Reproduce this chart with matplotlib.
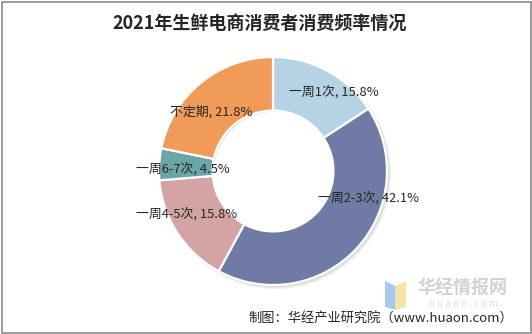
import matplotlib
matplotlib.use("Agg")
import matplotlib.pyplot as plt
from matplotlib.patches import Rectangle, Wedge, Polygon

plt.rcParams['font.family'] = ['Noto Sans CJK SC', 'DejaVu Sans']

# Data
categories = ["一周1次", "一周2-3次", "一周4-5次", "一周6-7次", "不定期"]
shares = [15.8, 42.1, 15.8, 4.5, 21.8]
colors = ["#b6d3e6", "#6f7ba4", "#d4a4a4", "#6aa5a7", "#f09c58"]
title = "2021年生鲜电商消费者消费频率情况"
source = "制图：华经产业研究院（www.huaon.com）"

# Label anchor points (data units, ring radius = 1)
label_xy = [(0.53, 0.69), (0.84, -0.24), (-0.76, -0.38), (-0.79, 0.02), (-0.54, 0.52)]

W, H = 532, 334
fig = plt.figure(figsize=(W / 100, H / 100), dpi=100)
fig.patch.set_facecolor("white")

# Outer frame
fig.add_artist(Rectangle((1.5 / W, 1.5 / H), (W - 3) / W, (H - 3) / H,
                         transform=fig.transFigure, fill=False,
                         edgecolor="#8a8a8a", linewidth=1.2))

# Axes placed so the ring center is at (273, 171) px, radius 114 px
R_px = 114.0
L = 1.25
cx, cy = 273.0, H - 171.0
ax = fig.add_axes([(cx - L * R_px) / W, (cy - L * R_px) / H,
                   2 * L * R_px / W, 2 * L * R_px / H])
ax.set_xlim(-L, L)
ax.set_ylim(-L, L)
ax.axis("off")

# Soft shadow behind the ring
for i in range(4):
    off = 0.006 * (i + 1)
    ax.add_patch(Wedge((off, -off), 1.0 + 0.004 * i, 0, 360, width=0.47,
                       facecolor="#000000", alpha=0.05, linewidth=0, zorder=1))

wedges, _ = ax.pie(shares, colors=colors, startangle=90, counterclock=False,
                   radius=1.0,
                   wedgeprops=dict(width=0.47, edgecolor="white", linewidth=1.6),
                   normalize=True)
for w in wedges:
    w.set_zorder(2)

for name, val, (x, y) in zip(categories, shares, label_xy):
    ax.text(x, y, f"{name}, {val}%", ha="center", va="center",
            fontsize=9.3, color="#262626", zorder=5)

# Title
fig.text(260 / W, 1 - 23 / H, title, ha="center", va="center",
         fontsize=13, fontweight="bold", color="#262626")

# Watermark logo and text
wm = fig.add_axes([385 / W, 1 - 310 / H, 21 / W, 32 / H])
wm.axis("off")
wm.set_xlim(0, 1)
wm.set_ylim(0, 1)
wm.add_patch(Polygon([(0, 0.1), (0.5, 0.0), (0.5, 0.75), (0, 0.9)],
                     facecolor="#a9c8ee", linewidth=0))
wm.add_patch(Polygon([(0.5, 0.0), (1.0, 0.1), (1.0, 0.9), (0.5, 0.75)],
                     facecolor="#f7e3a6", linewidth=0))
fig.text(463 / W, 1 - 288 / H, "华经情报网", ha="center", va="center",
         fontsize=13, fontweight="bold", color="#d2d2d2")
fig.text(463 / W, 1 - 304 / H, "h u a o n . c o m", ha="center", va="center",
         fontsize=7, color="#dcdcdc")

# Source line
fig.text(513 / W, 1 - 318 / H, source, ha="right", va="center",
         fontsize=9.5, color="#262626")

fig.savefig("out.png", dpi=100, facecolor="white")
